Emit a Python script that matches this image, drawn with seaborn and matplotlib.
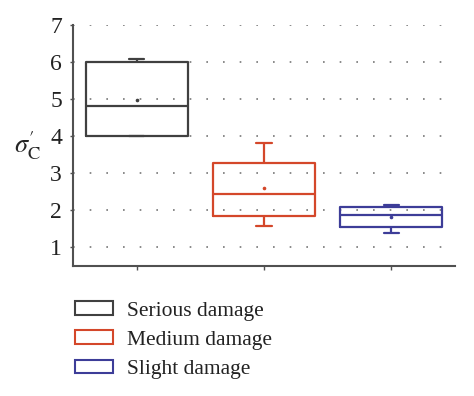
import matplotlib
matplotlib.use("Agg")

import pandas as pd
import seaborn as sns
from matplotlib import pyplot as plt
from matplotlib.patches import Patch

# five-number summaries: lower whisker, q1, median, q3, upper whisker
groups = ["Serious damage", "Medium damage", "Slight damage"]
serious = [4.0, 4.0, 4.8, 6.0, 6.07]
medium = [1.57, 1.83, 2.43, 3.27, 3.82]
slight = [1.37, 1.54, 1.86, 2.09, 2.14]
colors = ["#404040", "#d4472a", "#3d3d98"]
y_ticks = [1, 2, 3, 4, 5, 6, 7]

df = pd.DataFrame(
    {
        "group": [g for g, vals in zip(groups, [serious, medium, slight]) for _ in vals],
        "value": serious + medium + slight,
    }
)

sns.set_style("white")
plt.rcParams["font.family"] = ["Liberation Serif", "DejaVu Serif"]
plt.rcParams["mathtext.fontset"] = "stix"

fig = plt.figure(figsize=(4.74, 3.96), dpi=100)
ax = fig.add_axes([0.154, 0.328, 0.806, 0.609])

sns.boxplot(
    data=df,
    x="group",
    y="value",
    hue="group",
    order=groups,
    hue_order=groups,
    palette=colors,
    ax=ax,
    width=0.8,
    whis=1.5,
    showmeans=True,
    fill=False,
    linewidth=1.6,
    legend=False,
    meanprops=dict(marker="o", markersize=1.6),
    capwidths=0.12,
)
# mean dots in the group colour
for line in ax.lines:
    xd = line.get_xdata()
    if line.get_marker() == "o" and len(xd) > 0:
        c = colors[int(round(xd[0]))]
        line.set_markerfacecolor(c)
        line.set_markeredgecolor(c)

ax.set_ylim(0.48, 7.0)
ax.set_xlim(-0.5, 2.5)
ax.set_yticks(y_ticks)
ax.set_yticklabels([str(t) for t in y_ticks], fontsize=17)
ax.set_xticks([0, 1, 2])
ax.set_xticklabels([])
ax.set_xlabel("")
ax.set_ylabel(r"$\sigma_{\mathrm{C}}^{\prime}$", fontsize=19, rotation=0, labelpad=16, va="center")
ax.yaxis.grid(True, linestyle=(0, (1, 9)), color="#777777", linewidth=1.2)
ax.set_axisbelow(True)
for side in ["top", "right"]:
    ax.spines[side].set_visible(False)
for side in ["left", "bottom"]:
    ax.spines[side].set_color("#505050")
    ax.spines[side].set_linewidth(1.5)
ax.tick_params(axis="y", left=True, length=2, width=1, color="#505050", pad=6, labelcolor="#222222")
ax.tick_params(axis="x", bottom=True, length=3, width=1, color="#505050")

handles = [Patch(facecolor="white", edgecolor=c, linewidth=1.5) for c in colors]
fig.legend(
    handles,
    groups,
    loc="upper left",
    bbox_to_anchor=(0.118, 0.288),
    frameon=False,
    fontsize=15.5,
    labelcolor="#222222",
    handlelength=1.77,
    handleheight=0.6,
    handletextpad=0.65,
    labelspacing=0.45,
)

fig.savefig("out.png", dpi=100, facecolor="white")
